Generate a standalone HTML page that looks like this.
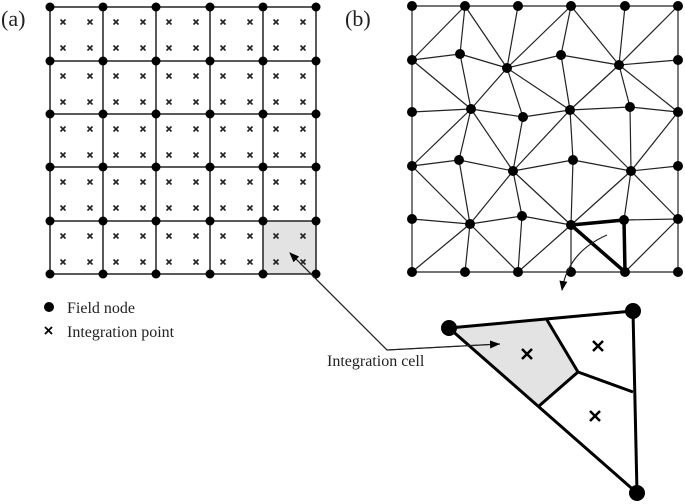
<!DOCTYPE html>
<html><head><meta charset="utf-8"><style>html,body{margin:0;padding:0;background:#fff}svg{display:block}text{font-family:"Liberation Serif",serif;fill:#222}</style></head><body>
<svg width="685" height="504" viewBox="0 0 685 504" xmlns="http://www.w3.org/2000/svg">
<defs><marker id="ah" markerWidth="10" markerHeight="8" refX="9" refY="4" orient="auto" markerUnits="userSpaceOnUse"><path d="M0,0 L10,4 L0,8 z" fill="#000"/></marker></defs>
<text x="1" y="26" font-size="22">(a)</text>
<text x="345" y="26" font-size="22">(b)</text>
<rect x="263" y="221" width="53" height="53" fill="#e3e3e3"/>
<g id="grid" stroke="#222" stroke-width="1.5">
<line x1="50" y1="7" x2="316" y2="7"/><line x1="50" y1="61" x2="316" y2="61"/><line x1="50" y1="114" x2="316" y2="114"/><line x1="50" y1="167" x2="316" y2="167"/><line x1="50" y1="221" x2="316" y2="221"/><line x1="50" y1="274" x2="316" y2="274"/>
<line x1="50" y1="7" x2="50" y2="274"/><line x1="103" y1="7" x2="103" y2="274"/><line x1="156" y1="7" x2="156" y2="274"/><line x1="210" y1="7" x2="210" y2="274"/><line x1="263" y1="7" x2="263" y2="274"/><line x1="316" y1="7" x2="316" y2="274"/>
</g>
<g id="crosses"></g>
<g fill="#000" id="gdots"></g>
<g stroke="#222" stroke-width="1.2" fill="none" id="mesh"></g>
<g fill="#000" id="mdots"></g>
<g stroke="#000" stroke-width="3.5" stroke-linecap="round"><line x1="571" y1="225" x2="624" y2="220"/><line x1="571" y1="225" x2="625" y2="272"/><line x1="624" y1="220" x2="625" y2="272"/></g>
<path d="M607,235 Q568,252 562,290" stroke="#222" stroke-width="1.2" fill="none" marker-end="url(#ah)"/>
<polygon points="449,328 547,320 578,372 539,406" fill="#e3e3e3"/>
<g stroke="#000" stroke-width="3" fill="none" stroke-linejoin="round">
<polygon points="449,328 633,311 637,493"/>
<polyline points="547,320 578,372 633,392"/><line x1="578" y1="372" x2="539" y2="406"/>
</g>
<circle cx="449" cy="328" r="8"/><circle cx="633" cy="311" r="8"/><circle cx="637" cy="493" r="8"/>
<g stroke="#000" stroke-width="2.5"><path d="M522,349l10,10M532,349l-10,10"/><path d="M593,341l10,10M603,341l-10,10"/><path d="M590,411l10,10M600,411l-10,10"/></g>
<text x="327" y="366" font-size="16">Integration cell</text>
<polyline points="500,344 387,350 290,253" stroke="#222" stroke-width="1.3" fill="none" marker-end="url(#ah)"/>
<path d="M387,350 L499,344" stroke="#222" stroke-width="1" marker-end="url(#ah)"/>
<circle cx="49" cy="307" r="5"/>
<path d="M45,327l7,7M52,327l-7,7" stroke="#000" stroke-width="1.8"/>
<text x="67" y="313" font-size="16">Field node</text>
<text x="67" y="337" font-size="16">Integration point</text>
<script>
var ns="http://www.w3.org/2000/svg";
function el(p,t,a){var e=document.createElementNS(ns,t);for(var k in a)e.setAttribute(k,a[k]);document.getElementById(p).appendChild(e);return e;}
var gx=[50,103,156,210,263,316],gy=[7,61,114,167,221,274];
for(var i=0;i<6;i++)for(var j=0;j<6;j++)el("gdots","circle",{cx:gx[i],cy:gy[j],r:4.5});
for(var i=0;i<5;i++)for(var j=0;j<5;j++){var x0=gx[i],y0=gy[j];[[13,15],[40,15],[13,41],[40,41]].forEach(function(o){var cx=x0+o[0],cy=y0+o[1];el("crosses","path",{d:"M"+(cx-2.5)+","+(cy-2.5)+"l5,5M"+(cx+2.5)+","+(cy-2.5)+"l-5,5",stroke:"#222","stroke-width":1.6});});}
var N=[[[412,6],[465,6],[518,6],[571,6],[625,6],[678,6]],
[[412,60],[460,54],[507,68],[561,55],[619,65],[678,60]],
[[412,112],[471,109],[523,117],[570,110],[630,107],[678,112]],
[[412,166],[459,160],[513,171],[573,160],[631,171],[678,166]],
[[412,219],[470,224],[522,216],[571,225],[624,220],[678,219]],
[[412,272],[465,272],[518,272],[571,272],[625,272],[678,272]]];
function L(a,b,c,d){var p=N[a][b],q=N[c][d];el("mesh","line",{x1:p[0],y1:p[1],x2:q[0],y2:q[1]});}
for(var r=0;r<6;r++)for(var c=0;c<5;c++)L(r,c,r,c+1);
for(var r=0;r<5;r++){L(r,0,r+1,0);L(r,5,r+1,5);}
[[0,1,1,0],[0,1,1,1],[0,1,1,2],[0,2,1,2],[0,3,1,2],[0,3,1,3],[0,3,1,4],[0,4,1,4],[0,5,1,4],
[1,0,2,1],[1,1,2,1],[1,2,2,1],[1,2,2,2],[1,2,2,3],[1,3,2,3],[1,4,2,3],[1,4,2,4],[1,4,2,5],
[2,1,3,0],[2,1,3,1],[2,1,3,2],[2,2,3,2],[2,3,3,2],[2,3,3,3],[2,3,3,4],[2,4,3,4],[2,5,3,4],
[3,0,4,1],[3,1,4,1],[3,2,4,1],[3,2,4,2],[3,2,4,3],[3,3,4,3],[3,4,4,3],[3,4,4,4],[3,4,4,5],
[4,1,5,0],[4,1,5,1],[4,1,5,2],[4,2,5,2],[4,3,5,2],[4,3,5,3],[4,3,5,4],[4,4,5,4],[4,5,5,4]].forEach(function(e){L(e[0],e[1],e[2],e[3]);});
N.forEach(function(r){r.forEach(function(p){el("mdots","circle",{cx:p[0],cy:p[1],r:5});});});
</script>
</svg>
</body></html>
